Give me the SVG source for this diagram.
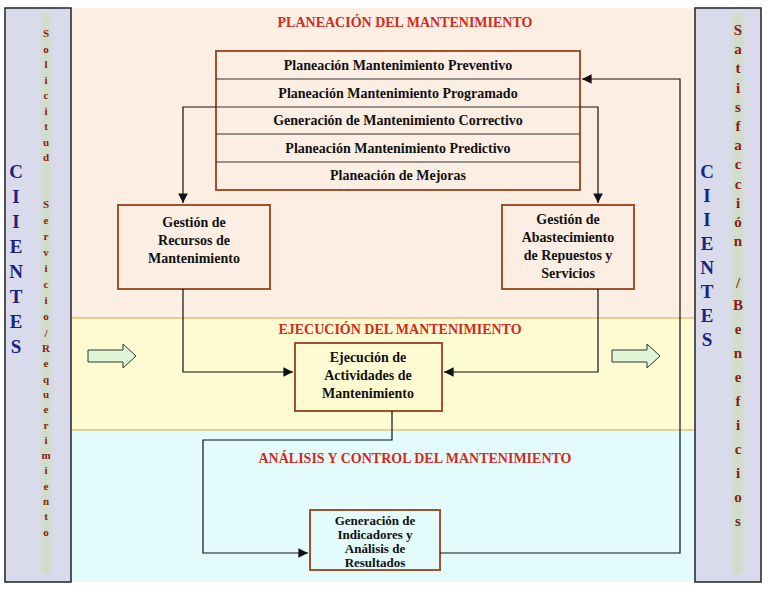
<svg xmlns="http://www.w3.org/2000/svg" width="768" height="594" viewBox="0 0 768 594">
<defs>
<style>
.t{font-family:"Liberation Serif",serif;font-weight:bold;font-size:14px;fill:#111;text-anchor:middle}
.h{font-family:"Liberation Serif",serif;font-weight:bold;font-size:14px;fill:#d42a1a;text-anchor:middle}
.cl{font-family:"Liberation Serif",serif;font-weight:bold;font-size:19px;fill:#1a237e;text-anchor:middle}
.rv{font-family:"Liberation Serif",serif;font-weight:bold;font-size:11px;fill:#8b1a1a;text-anchor:middle}
.box{fill:none;stroke:#a0522d;stroke-width:2}
.c{fill:none;stroke:#111;stroke-width:1.2}
</style>
<linearGradient id="g" x1="0" x2="1"><stop offset="0" stop-color="#d8dbe8"/><stop offset="0.5" stop-color="#cfdcc4"/><stop offset="1" stop-color="#d8dbe8"/></linearGradient>
<marker id="a" viewBox="0 0 10 10" refX="10" refY="5" markerWidth="8" markerHeight="8" orient="auto"><path d="M0,0L10,5L0,10z" fill="#111"/></marker>
</defs>
<rect width="768" height="594" fill="#fff"/>
<rect x="71" y="8" width="624" height="310" fill="#fdeee3"/>
<rect x="71" y="318" width="624" height="112" fill="#fefbd2"/>
<rect x="71" y="430" width="624" height="152" fill="#e3fbfc"/>
<line x1="71" y1="318" x2="695" y2="318" stroke="#d9a441"/>
<line x1="71" y1="430" x2="695" y2="430" stroke="#d9a441"/>
<g id="left">
<rect x="5" y="8" width="66" height="574" fill="#d9dbec" stroke="#222" stroke-width="1.5"/>
<rect x="38" y="14" width="16" height="560" fill="url(#g)"/>
<text class="cl"><tspan x="16" y="178">C</tspan><tspan x="16" dy="25">I</tspan><tspan x="16" dy="25">I</tspan><tspan x="16" dy="25">E</tspan><tspan x="16" dy="25">N</tspan><tspan x="16" dy="25">T</tspan><tspan x="16" dy="25">E</tspan><tspan x="16" dy="25">S</tspan></text>
<text class="rv"><tspan x="46" y="37">S</tspan><tspan x="46" dy="15.5">o</tspan><tspan x="46" dy="15.5">l</tspan><tspan x="46" dy="15.5">i</tspan><tspan x="46" dy="15.5">c</tspan><tspan x="46" dy="15.5">i</tspan><tspan x="46" dy="15.5">t</tspan><tspan x="46" dy="15.5">u</tspan><tspan x="46" dy="15.5">d</tspan><tspan x="46" y="208">S</tspan><tspan x="46" dy="16">e</tspan><tspan x="46" dy="16">r</tspan><tspan x="46" dy="16">v</tspan><tspan x="46" dy="16">i</tspan><tspan x="46" dy="16">c</tspan><tspan x="46" dy="16">i</tspan><tspan x="46" dy="16">o</tspan><tspan x="46" y="337">/</tspan><tspan x="46" y="352">R</tspan><tspan x="46" dy="15.3">e</tspan><tspan x="46" dy="15.3">q</tspan><tspan x="46" dy="15.3">u</tspan><tspan x="46" dy="15.3">e</tspan><tspan x="46" dy="15.3">r</tspan><tspan x="46" dy="15.3">i</tspan><tspan x="46" dy="15.3">m</tspan><tspan x="46" dy="15.3">i</tspan><tspan x="46" dy="15.3">e</tspan><tspan x="46" dy="15.3">n</tspan><tspan x="46" dy="15.3">t</tspan><tspan x="46" dy="15.3">o</tspan></text>
</g>
<g id="right">
<rect x="695" y="8" width="66" height="574" fill="#d9dbec" stroke="#222" stroke-width="1.5"/>
<rect x="729" y="14" width="18" height="560" fill="url(#g)"/>
<text class="cl"><tspan x="707" y="178">C</tspan><tspan x="707" dy="24">I</tspan><tspan x="707" dy="24">I</tspan><tspan x="707" dy="24">E</tspan><tspan x="707" dy="24">N</tspan><tspan x="707" dy="24">T</tspan><tspan x="707" dy="24">E</tspan><tspan x="707" dy="24">S</tspan></text>
<text class="rv" style="font-size:15px"><tspan x="738" y="35">S</tspan><tspan x="738" dy="19.2">a</tspan><tspan x="738" dy="19.2">t</tspan><tspan x="738" dy="19.2">i</tspan><tspan x="738" dy="19.2">s</tspan><tspan x="738" dy="19.2">f</tspan><tspan x="738" dy="19.2">a</tspan><tspan x="738" dy="19.2">c</tspan><tspan x="738" dy="19.2">c</tspan><tspan x="738" dy="19.2">i</tspan><tspan x="738" dy="19.2">ó</tspan><tspan x="738" dy="19.2">n</tspan><tspan x="738" y="288">/</tspan><tspan x="738" y="310">B</tspan><tspan x="738" dy="24">e</tspan><tspan x="738" dy="24">n</tspan><tspan x="738" dy="24">e</tspan><tspan x="738" dy="24">f</tspan><tspan x="738" dy="24">i</tspan><tspan x="738" dy="24">c</tspan><tspan x="738" dy="24">i</tspan><tspan x="738" dy="24">o</tspan><tspan x="738" dy="24">s</tspan></text>
</g>
<text class="h" x="405" y="27">PLANEACIÓN DEL MANTENIMIENTO</text>
<text class="h" x="400" y="334">EJECUCIÓN DEL MANTENIMIENTO</text>
<text class="h" x="415" y="463">ANÁLISIS Y CONTROL DEL MANTENIMIENTO</text>
<g id="arrows-hollow" fill="#dff5d6" stroke="#333" stroke-width="1">
<path d="M88,350H123V344L136,356L123,368V362H88Z"/>
<path d="M612,350H647V344L660,356L647,368V362H612Z"/>
</g>
<g id="planeacion">
<rect class="box" x="216" y="51" width="364" height="139"/>
<g stroke="#333" stroke-width="1"><line x1="216" y1="79" x2="580" y2="79"/><line x1="216" y1="107" x2="580" y2="107"/><line x1="216" y1="134" x2="580" y2="134"/><line x1="216" y1="162" x2="580" y2="162"/></g>
<text class="t" x="398" y="70">Planeación Mantenimiento Preventivo</text>
<text class="t" x="398" y="98">Planeación Mantenimiento Programado</text>
<text class="t" x="398" y="125">Generación de Mantenimiento Correctivo</text>
<text class="t" x="398" y="153">Planeación Mantenimiento Predictivo</text>
<text class="t" x="398" y="180">Planeación de Mejoras</text>
</g>
<g id="recursos"><rect class="box" x="118" y="205" width="152" height="84"/>
<text class="t"><tspan x="194" y="227">Gestión de</tspan><tspan x="194" y="245">Recursos de</tspan><tspan x="194" y="263">Mantenimiento</tspan></text></g>
<g id="abastecimiento"><rect class="box" x="502" y="205" width="132" height="84"/>
<text class="t"><tspan x="568" y="224">Gestión de</tspan><tspan x="568" y="242">Abastecimiento</tspan><tspan x="568" y="260">de Repuestos y</tspan><tspan x="568" y="278">Servicios</tspan></text></g>
<g id="ejecucion"><rect class="box" x="295" y="343" width="147" height="68"/>
<text class="t"><tspan x="368" y="362">Ejecución de</tspan><tspan x="368" y="380">Actividades de</tspan><tspan x="368" y="398">Mantenimiento</tspan></text></g>
<g id="indicadores"><rect class="box" x="310" y="510" width="130" height="60"/>
<text class="t" style="font-size:13px"><tspan x="375" y="525">Generación de</tspan><tspan x="375" y="539">Indicadores y</tspan><tspan x="375" y="553">Análisis de</tspan><tspan x="375" y="567">Resultados</tspan></text></g>
<g id="connectors">
<path class="c" d="M216,107H183V203" marker-end="url(#a)"/>
<path class="c" d="M580,107H598V203" marker-end="url(#a)"/>
<path class="c" d="M183,289V372H293" marker-end="url(#a)"/>
<path class="c" d="M598,289V372H444" marker-end="url(#a)"/>
<path class="c" d="M392,411V440H203V553H308" marker-end="url(#a)"/>
<path class="c" d="M440,553H680V79H582" marker-end="url(#a)"/>
</g>
</svg>
